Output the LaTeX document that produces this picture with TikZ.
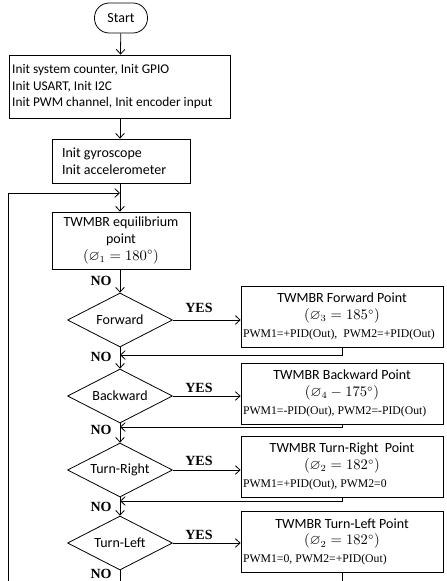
\documentclass[tikz,border=0pt]{standalone}
\usepackage{fontspec}
\usepackage{amssymb}
\setmainfont{Liberation Serif}
\newfontfamily\calibri{Carlito}
\usetikzlibrary{arrows.meta, shapes.geometric, positioning}

\begin{document}
\begin{tikzpicture}[x=0.75pt,y=-0.75pt,line width=0.6pt,
    every node/.style={font=\calibri\fontsize{10.5}{12.5}\selectfont},
    arr/.style={-{Straight Barb[length=3.5pt,width=6.5pt]}},
    startbox/.style={draw,minimum width=39.75pt,minimum height=22.5pt,rounded corners=11pt},
    initbox/.style={draw,align=flush left,inner ysep=2pt},
    decision/.style={draw,diamond,aspect=2,inner sep=0pt,minimum width=78.75pt,minimum height=40.5pt},
    pointbox/.style={draw,minimum width=151.5pt,minimum height=45.75pt,text width=148.5pt,inner xsep=1.5pt,align=flush center},
    lbl/.style={font=\rmfamily\bfseries\fontsize{10.5}{12}\selectfont,inner sep=0pt}]
            \useasboundingbox (0,0) rectangle (446,581);
            %\draw (0,0) -- (446,0) -- (446,581) -- (0,581) -- cycle;

            % main column
            \node [startbox] (start) at (121,18) {Start};
            \node [initbox,font=\calibri\fontsize{10}{12.5}\selectfont,minimum width=165.75pt,minimum height=47.25pt,text width=161.75pt,inner xsep=2pt] (init1) at (120,86.5)
                {Init system counter, Init GPIO\\ Init USART, Init I2C\\ Init PWM channel, Init encoder input};
            \node [initbox,minimum width=103.5pt,minimum height=33pt,text width=88.5pt,inner xsep=7.5pt] (init2) at (121,161)
                {Init gyroscope\\ Init accelerometer};
            \node [draw,align=center,minimum width=103.5pt,minimum height=42.75pt,inner sep=1pt] (eq) at (121,240.5)
                {TWMBR equilibrium\\ point\\ $(\varnothing_1 = 180^\circ)$};
            \node [decision] (fwd) at (120,320) {Forward};
            \node [decision] (bwd) at (120,396) {Backward};
            \node [decision] (right) at (120,470) {Turn-Right};
            \node [decision] (left) at (120,543) {Turn-Left};

            % right column
            \node [pointbox] (fwdbox) at (342,316.5) {TWMBR Forward Point\\ $(\varnothing_3 = 185^\circ)$\\[1pt]
                \makebox[\linewidth][l]{\rmfamily\fontsize{8.8}{11}\selectfont PWM1=+PID(Out),\ \ PWM2=+PID(Out)}};
            \node [pointbox] (bwdbox) at (342,393.5) {TWMBR Backward Point\\ $(\varnothing_4 - 175^\circ)$\\[1pt]
                \makebox[\linewidth][l]{\rmfamily\fontsize{8.8}{11}\selectfont PWM1=-PID(Out), PWM2=-PID(Out)}};
            \node [pointbox] (rightbox) at (342,466.5) {TWMBR Turn-Right\ \ Point\\ $(\varnothing_2 = 182^\circ)$\\[1pt]
                \makebox[\linewidth][l]{\rmfamily\fontsize{8.8}{11}\selectfont PWM1=+PID(Out), PWM2=0}};
            \node [pointbox] (leftbox) at (342,542) {TWMBR Turn-Left Point\\ $(\varnothing_2 = 182^\circ)$\\[1pt]
                \makebox[\linewidth][l]{\rmfamily\fontsize{8.8}{11}\selectfont PWM1=0, PWM2=+PID(Out)}};

            % labels
            \node [lbl,anchor=east] (no1) at (112,281) {NO};
            \node [lbl,anchor=east] (no2) at (112,357) {NO};
            \node [lbl,anchor=east] (no3) at (112,430) {NO};
            \node [lbl,anchor=east] (no4) at (112,507) {NO};
            \node [lbl,anchor=east] (no5) at (112,574) {NO};
            \node [lbl] (yes1) at (199,308) {YES};
            \node [lbl] (yes2) at (199,388) {YES};
            \node [lbl] (yes3) at (199,461) {YES};
            \node [lbl] (yes4) at (199,535) {YES};

            \coordinate (ret1) at (120,355);
            \coordinate (ret2) at (120,427);
            \coordinate (ret3) at (120,501);
            \coordinate (endmain) at (120,581);
            \coordinate (endleft) at (342,581);
            \coordinate (loopbot) at (8,581);
            \coordinate (looptop) at (120,193);

            % connectors
            \draw [arr] (start) -- (init1);
            \draw [arr] (init1) -- (init1 |- init2.north);
            \draw [arr] (init2.south -| looptop) -- (eq.north -| looptop);
            \draw [arr] (eq.south -| fwd) -- (fwd);
            \draw [arr] (fwd) -- (bwd);
            \draw [arr] (bwd) -- (right);
            \draw [arr] (right) -- (left);
            \draw (left) -- (endmain);
            \draw [arr] (loopbot) |- (looptop);

            \draw [arr] (fwd.east) -- (fwd.east -| fwdbox.west);
            \draw [arr] (bwd.east) -- (bwd.east -| bwdbox.west);
            \draw [arr] (right.east) -- (right.east -| rightbox.west);
            \draw [arr] (left.east) -- (left.east -| leftbox.west);

            \draw [arr] (fwdbox.south) |- (ret1);
            \draw [arr] (bwdbox.south) |- (ret2);
            \draw [arr] (rightbox.south) |- (ret3);
            \draw (leftbox.south) -- (endleft);
\end{tikzpicture}
\end{document}
